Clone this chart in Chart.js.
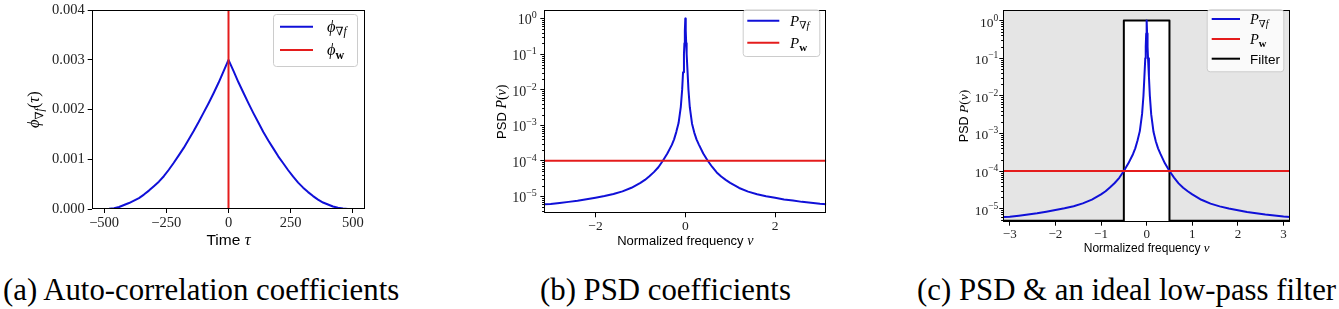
<!DOCTYPE html>
<html><head><meta charset="utf-8">
<script src="https://cdn.jsdelivr.net/npm/chart.js@4.4.0/dist/chart.umd.min.js"></script>
<style>
html,body{margin:0;padding:0;background:#fff;width:1339px;height:309px;overflow:hidden;}
canvas{position:absolute;top:0;}
.cap{position:absolute;top:275px;font-family:"Liberation Serif","Times New Roman",serif;font-size:30.8px;line-height:31px;white-space:nowrap;color:#000;}
</style></head><body>
<canvas id="ca" width="400" height="270" style="left:0px"></canvas>
<canvas id="cb" width="420" height="270" style="left:440px"></canvas>
<canvas id="cc" width="459" height="270" style="left:880px"></canvas>
<div class="cap" style="left:3px">(a) Auto-correlation coefficients</div>
<div class="cap" style="left:540px">(b) PSD coefficients</div>
<div class="cap" style="left:917px">(c) PSD &amp; an ideal low-pass filter</div>
<script>
// ---------- data ----------
const tauValues = [-500,-480,-460,-440,-420,-400,-380,-360,-340,-320,-300,-280,-260,-240,-220,-200,-180,-160,-140,-120,-100,-80,-60,-40,-20,0,20,40,60,80,100,120,140,160,180,200,220,240,260,280,300,320,340,360,380,400,420,440,460,480,500];
const phiGradF = [0,0.000004,0.000015,0.00004,0.00008,0.00012,0.00017,0.00022,0.00029,0.00037,0.00046,0.00055,0.00066,0.00079,0.00093,0.00108,0.00123,0.0014,0.00157,0.00175,0.00194,0.00213,0.00233,0.00254,0.00277,0.003,0.00278,0.00255,0.00234,0.00213,0.00193,0.00174,0.00155,0.00138,0.00122,0.00106,0.00092,0.00078,0.00065,0.00053,0.00043,0.00034,0.00026,0.00019,0.00013,0.00009,0.00005,0.000025,0.000008,0,0];
const phiWTau = [-500, 0, 0, 0, 500];
const phiWValues = [0, 0, 1, 0, 0];
const tauTicks = [-500, -250, 0, 250, 500];
const phiTicks = [0, 0.001, 0.002, 0.003, 0.004];

const nuValues = [-3.1416,-3.0,-2.8,-2.6,-2.4,-2.2,-2.0,-1.8,-1.6,-1.4,-1.2,-1.0,-0.9,-0.8,-0.7,-0.6,-0.5,-0.4,-0.3,-0.25,-0.2,-0.15,-0.1,-0.07,-0.05,-0.03,-0.02,-0.01,0,0.01,0.02,0.03,0.05,0.07,0.1,0.15,0.2,0.25,0.3,0.4,0.5,0.6,0.7,0.8,0.9,1.0,1.2,1.4,1.6,1.8,2.0,2.2,2.4,2.6,2.8,3.0,3.1416];
const psdGradF = [6.0e-6,6.1e-6,6.5e-6,7.0e-6,7.5e-6,8.3e-6,9.2e-6,1.02e-5,1.16e-5,1.38e-5,1.74e-5,2.4e-5,2.9e-5,3.7e-5,4.8e-5,6.6e-5,1.0e-4,1.6e-4,2.8e-4,4.0e-4,6.5e-4,1.15e-3,3.3e-3,1.0e-2,3.1e-2,0.1,0.2,0.45,1.0,0.45,0.2,0.1,0.032,0.01,3.2e-3,1.1e-3,6.2e-4,4.0e-4,2.9e-4,1.6e-4,1.0e-4,6.7e-5,4.7e-5,3.6e-5,2.9e-5,2.4e-5,1.72e-5,1.36e-5,1.15e-5,1.01e-5,9.1e-6,8.2e-6,7.6e-6,7.0e-6,6.6e-6,6.2e-6,6.0e-6];
const psdWNu = [-3.1416, 3.1416];
const psdWValues = [1e-4, 1e-4];
const filterNu = [-3.1416, -0.5, -0.5, 0.5, 0.5, 3.1416];
const filterValues = [4.77e-6, 4.77e-6, 1, 1, 4.77e-6, 4.77e-6];
const nuTicksB = [-2, 0, 2];
const nuTicksC = [-3, -2, -1, 0, 1, 2, 3];
const psdTicks = [1e-5, 1e-4, 1e-3, 1e-2, 1e-1, 1];
const psdTickExponents = ['−5', '−4', '−3', '−2', '−1', '0'];

// ---------- helpers ----------
const SERIF = '"Liberation Serif","Times New Roman","DejaVu Serif",serif';
const SANS = '"Liberation Sans","DejaVu Sans",sans-serif';
const BLUE = '#1010d8', RED = '#e41c1c', BLACK = '#000000';
const TICKCOL = '#222';
const pts = (xs, ys) => xs.map((x, i) => ({x: x, y: ys[i]}));
const minus = v => (v < 0 ? '\u2212' + String(-v) : String(v));

function drawRich(ctx, segs, x, y, align, rot, color) {
  ctx.save();
  ctx.translate(x, y);
  if (rot) ctx.rotate(rot);
  ctx.textBaseline = 'alphabetic';
  ctx.textAlign = 'left';
  ctx.fillStyle = color || '#000';
  let total = 0;
  const ws = segs.map(s => { ctx.font = s.f; const w = ctx.measureText(s.t).width; total += w; return w; });
  let cx = align === 'center' ? -total / 2 : (align === 'right' ? -total : 0);
  segs.forEach((s, i) => { ctx.font = s.f; ctx.fillText(s.t, cx, s.dy || 0); cx += ws[i]; });
  ctx.restore();
}
function roundRectPath(ctx, x, y, w, h, r) {
  ctx.beginPath();
  ctx.moveTo(x + r, y);
  ctx.lineTo(x + w - r, y); ctx.arcTo(x + w, y, x + w, y + r, r);
  ctx.lineTo(x + w, y + h - r); ctx.arcTo(x + w, y + h, x + w - r, y + h, r);
  ctx.lineTo(x + r, y + h); ctx.arcTo(x, y + h, x, y + h - r, r);
  ctx.lineTo(x, y + r); ctx.arcTo(x, y, x + r, y, r);
  ctx.closePath();
}

function makePlugin(cfg) {
  return {
    id: 'mpl_' + cfg.name,
    beforeDraw(chart) {
      if (!cfg.bg) return;
      const a = chart.chartArea, ctx = chart.ctx;
      ctx.save(); ctx.fillStyle = cfg.bg;
      ctx.fillRect(a.left, a.top, a.right - a.left, a.bottom - a.top);
      ctx.restore();
    },
    afterDraw(chart) {
      const ctx = chart.ctx, a = chart.chartArea;
      const ys = chart.scales.y;
      ctx.save();
      if (cfg.log) {
        ctx.strokeStyle = '#000'; ctx.lineWidth = 1;
        const e0 = Math.floor(Math.log10(ys.min)), e1 = Math.ceil(Math.log10(ys.max));
        for (let e = e0; e <= e1; e++) {
          for (let k = 2; k <= 9; k++) {
            const v = k * Math.pow(10, e);
            if (v <= ys.min || v >= ys.max) continue;
            const py = Math.round(ys.getPixelForValue(v)) + 0.5;
            ctx.beginPath(); ctx.moveTo(a.left, py); ctx.lineTo(a.left - 2.2, py); ctx.stroke();
          }
        }
        const L = cfg.log;
        psdTicks.forEach((v, i) => {
          const py = ys.getPixelForValue(v);
          drawRich(ctx, [
            {t: '10', f: L.fs + 'px ' + SERIF, dy: L.dy10},
            {t: psdTickExponents[i], f: L.efs + 'px ' + SERIF, dy: L.dyExp}
          ], a.left - L.gap, py, 'right', 0, TICKCOL);
        });
      }
      ctx.strokeStyle = '#000'; ctx.lineWidth = 1;
      const l = Math.round(a.left) + 0.5, t = Math.round(a.top) + 0.5;
      const r = Math.round(a.right) - 0.5, b = Math.round(a.bottom) - 0.5;
      ctx.strokeRect(l, t, r - l, b - t);
      drawRich(ctx, cfg.xTitle, (a.left + a.right) / 2, a.bottom + cfg.xTitleOff, 'center', 0, '#000');
      drawRich(ctx, cfg.yTitle, a.left - cfg.yTitleOff, (a.top + a.bottom) / 2, 'center', -Math.PI / 2, '#000');
      const Lg = cfg.legend;
      roundRectPath(ctx, Lg.x + 0.5, Lg.y + 0.5, Lg.w, Lg.h, 3);
      ctx.fillStyle = 'rgba(255,255,255,0.8)'; ctx.fill();
      ctx.strokeStyle = '#cccccc'; ctx.lineWidth = 1; ctx.stroke();
      Lg.items.forEach(it => {
        const ds = chart.data.datasets[it.ds];
        ctx.beginPath(); ctx.moveTo(Lg.lx0, it.y); ctx.lineTo(Lg.lx1, it.y);
        ctx.strokeStyle = ds.borderColor; ctx.lineWidth = 2; ctx.stroke();
        drawRich(ctx, it.segs, Lg.tx, it.y + Lg.base, 'left', 0, '#000');
      });
      ctx.restore();
    }
  };
}

function xScale(min, max, ticks, h, fs, pad) {
  return {
    type: 'linear', min: min, max: max,
    afterBuildTicks: s => { s.ticks = ticks.map(v => ({value: v})); },
    afterFit: s => { s.height = h; },
    grid: {display: true, drawOnChartArea: false, drawTicks: true, tickLength: 4, tickColor: '#000', tickWidth: 1},
    border: {display: false},
    ticks: {font: {family: SERIF, size: fs, lineHeight: 1}, color: TICKCOL, padding: pad, maxRotation: 0, autoSkip: false, callback: v => minus(v)}
  };
}
function yLinear(min, max, ticks, w, fs) {
  return {
    type: 'linear', min: min, max: max,
    afterBuildTicks: s => { s.ticks = ticks.map(v => ({value: v})); },
    afterFit: s => { s.width = w; },
    grid: {display: true, drawOnChartArea: false, drawTicks: true, tickLength: 4, tickColor: '#000', tickWidth: 1},
    border: {display: false},
    ticks: {font: {family: SERIF, size: fs, lineHeight: 1}, color: TICKCOL, padding: 3, autoSkip: false, callback: v => v.toFixed(3)}
  };
}
function yLog(min, max, w) {
  return {
    type: 'logarithmic', min: min, max: max,
    afterBuildTicks: s => { s.ticks = psdTicks.map(v => ({value: v, major: true})); },
    afterFit: s => { s.width = w; },
    grid: {display: true, drawOnChartArea: false, drawTicks: true, tickLength: 4, tickColor: '#000', tickWidth: 1},
    border: {display: false},
    ticks: {autoSkip: false, callback: () => ''}
  };
}
const lineDs = (data, color, order, extra) => Object.assign({
  data: data, borderColor: color, borderWidth: 2, pointRadius: 0, tension: 0,
  fill: false, order: order, borderJoinStyle: 'round'
}, extra || {});
const baseOpts = (padding, scales) => ({
  responsive: false, animation: false, events: [],
  layout: {padding: padding},
  plugins: {legend: {display: false}, title: {display: false}, tooltip: {enabled: false}},
  scales: scales
});

// ---------- chart (a) ----------
new Chart(document.getElementById('ca'), {
  type: 'line',
  data: {datasets: [
    lineDs(pts(tauValues, phiGradF), BLUE, 2),
    lineDs(pts(phiWTau, phiWValues), RED, 1)
  ]},
  options: baseOpts({left: 0, top: 6, right: 34.7, bottom: 0}, {
    x: xScale(-550, 550, tauTicks, 61, 14.5, 3),
    y: yLinear(0, 0.004, phiTicks, 91.7, 14.5)
  }),
  plugins: [makePlugin({
    name: 'a',
    xTitle: [{t: 'Time ', f: '15.5px ' + SANS}, {t: 'τ', f: 'italic 16.5px ' + SERIF}],
    xTitleOff: 36,
    yTitle: [{t: 'ϕ', f: 'italic 16.5px ' + SERIF}, {t: '∇', f: '11.5px ' + SERIF, dy: 3.5}, {t: 'f', f: 'italic 11.5px ' + SERIF, dy: 3.5},
             {t: '(', f: '16.5px ' + SERIF}, {t: 'τ', f: 'italic 16.5px ' + SERIF}, {t: ')', f: '16.5px ' + SERIF}],
    yTitleOff: 52.7,
    legend: {x: 273, y: 14, w: 84, h: 52, lx0: 280, lx1: 313, tx: 327, base: 5,
      items: [
        {ds: 0, y: 26.7, segs: [{t: 'ϕ', f: 'italic 16.5px ' + SERIF}, {t: '∇', f: '11.5px ' + SERIF, dy: 3.5}, {t: 'f', f: 'italic 11.5px ' + SERIF, dy: 3.5}]},
        {ds: 1, y: 50, segs: [{t: 'ϕ', f: 'italic 16.5px ' + SERIF}, {t: 'w', f: 'bold 12px ' + SERIF, dy: 3.5}]}
      ]}
  })]
});

// ---------- chart (b) ----------
new Chart(document.getElementById('cb'), {
  type: 'line',
  data: {datasets: [
    lineDs(pts(nuValues, psdGradF), BLUE, 2),
    lineDs(pts(psdWNu, psdWValues), RED, 1)
  ]},
  options: baseOpts({left: 0, top: 2.7, right: 33.7, bottom: 0}, {
    x: xScale(-3.1416, 3.1416, nuTicksB, 56.7, 13.5, 2),
    y: yLog(3.34e-6, 1.71, 104.3)
  }),
  plugins: [makePlugin({
    name: 'b',
    log: {fs: 14, efs: 10, gap: 7.5, dy10: 6, dyExp: 0},
    xTitle: [{t: 'Normalized frequency ', f: '13px ' + SANS}, {t: 'ν', f: 'italic 14px ' + SERIF}],
    xTitleOff: 31.7,
    yTitle: [{t: 'PSD ', f: '13px ' + SANS}, {t: 'P', f: 'italic 14px ' + SERIF}, {t: '(', f: '14px ' + SERIF}, {t: 'ν', f: 'italic 14px ' + SERIF}, {t: ')', f: '14px ' + SERIF}],
    yTitleOff: 38.6,
    legend: {x: 302.7, y: 9.5, w: 76.6, h: 46.5, lx0: 307.3, lx1: 339.3, tx: 350, base: 5,
      items: [
        {ds: 0, y: 20.7, segs: [{t: 'P', f: 'italic 15px ' + SERIF}, {t: '∇', f: '10.5px ' + SERIF, dy: 3}, {t: 'f', f: 'italic 10.5px ' + SERIF, dy: 3}]},
        {ds: 1, y: 42.7, segs: [{t: 'P', f: 'italic 15px ' + SERIF}, {t: 'w', f: 'bold 11px ' + SERIF, dy: 3}]}
      ]}
  })]
});

// ---------- chart (c) ----------
new Chart(document.getElementById('cc'), {
  type: 'line',
  data: {datasets: [
    lineDs(pts(nuValues, psdGradF), BLUE, 2),
    lineDs(pts(psdWNu, psdWValues), RED, 1),
    lineDs(pts(filterNu, filterValues), BLACK, 3, {fill: 'start', backgroundColor: '#ffffff'})
  ]},
  options: baseOpts({left: 0, top: 3, right: 49, bottom: 0}, {
    x: xScale(-3.1416, 3.1416, nuTicksC, 48.3, 13, 2),
    y: yLog(4.5e-6, 1.88, 123.3)
  }),
  plugins: [makePlugin({
    name: 'c', bg: '#e5e5e5',
    log: {fs: 13.5, efs: 9.5, gap: 5, dy10: 6, dyExp: 0},
    xTitle: [{t: 'Normalized frequency ', f: '12px ' + SANS}, {t: 'ν', f: 'italic 13px ' + SERIF}],
    xTitleOff: 30.3,
    yTitle: [{t: 'PSD ', f: '12.5px ' + SANS}, {t: 'P', f: 'italic 13.5px ' + SERIF}, {t: '(', f: '13.5px ' + SERIF}, {t: 'ν', f: 'italic 13.5px ' + SERIF}, {t: ')', f: '13.5px ' + SERIF}],
    yTitleOff: 35.3,
    legend: {x: 326.7, y: 9.3, w: 76.6, h: 62, lx0: 331.7, lx1: 360, tx: 370, base: 5,
      items: [
        {ds: 0, y: 19, segs: [{t: 'P', f: 'italic 14.5px ' + SERIF}, {t: '∇', f: '10px ' + SERIF, dy: 3}, {t: 'f', f: 'italic 10px ' + SERIF, dy: 3}]},
        {ds: 1, y: 39, segs: [{t: 'P', f: 'italic 14.5px ' + SERIF}, {t: 'w', f: 'bold 10.5px ' + SERIF, dy: 3}]},
        {ds: 2, y: 58.7, segs: [{t: 'Filter', f: '13.5px ' + SANS}]}
      ]}
  })]
});
</script>
</body></html>
